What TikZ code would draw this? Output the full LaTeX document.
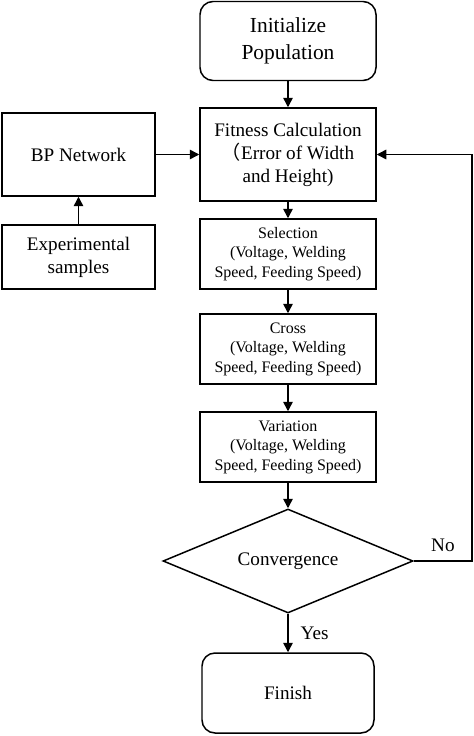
\documentclass[tikz,border=0pt]{standalone}
\usepackage{fontspec}
\setmainfont{Liberation Serif}
\newfontfamily\cjk{Noto Sans CJK SC}
\usepackage{tikz}
\usetikzlibrary{arrows.meta,positioning,calc,shapes.geometric}
\newcommand{\bigsz}{\fontsize{12.2}{15.4}\selectfont}
\newcommand{\midsz}{\fontsize{10.9}{13.1}\selectfont}
\newcommand{\smlsz}{\fontsize{9.1}{11.1}\selectfont}

\begin{document}
\begin{tikzpicture}[line width=0.85pt,
  box/.style={draw,rectangle,align=center,inner sep=0pt,minimum width=3.52cm,minimum height=1.40cm,font=\smlsz},
  term/.style={draw,rectangle,rounded corners=0.26cm,align=center,inner sep=0pt,minimum width=3.52cm,font=\bigsz},
  sidebox/.style={draw,rectangle,align=center,inner sep=0pt,minimum width=3.06cm,font=\midsz},
  decision/.style={draw,diamond,aspect=2.4,inner sep=0pt,minimum width=5cm,minimum height=2.08cm,font=\midsz},
  arr/.style={-{Triangle[length=1.9mm,width=1.9mm]}}]
\useasboundingbox (0,0) rectangle (9.48,-14.72);
\node[term,minimum height=1.58cm] (init) at (5.76,-0.82) {Initialize\\Population};
\node[box,font=\midsz,minimum height=1.86cm] (fit) at (5.76,-3.09) {Fitness Calculation\\{\cjk （}Error of Width\\and Height)};
\node[sidebox,minimum height=1.66cm] (bp) at (1.57,-3.09) {BP Network};
\node[sidebox,minimum height=1.28cm] (exp) at (1.57,-5.14) {Experimental\\samples};
\node[box] (sel) at (5.76,-5.08) {Selection\\(Voltage, Welding\\Speed, Feeding Speed)};
\node[box] (cross) at (5.76,-6.98) {Cross\\(Voltage, Welding\\Speed, Feeding Speed)};
\node[box] (var) at (5.76,-8.94) {Variation\\(Voltage, Welding\\Speed, Feeding Speed)};
\node[decision] (conv) at (5.76,-11.22) {Convergence};
\node[term,font=\midsz,minimum width=3.44cm,minimum height=1.6cm] (fin) at (5.76,-13.86) {Finish};
\coordinate (back) at (9.44,-11.22);
\draw[arr] (init) -- (fit);
\draw[arr] (bp) -- (fit);
\draw[arr] (exp) -- (bp);
\draw[arr] (fit) -- (sel);
\draw[arr] (sel) -- (cross);
\draw[arr] (cross) -- (var);
\draw[arr] (var) -- (conv);
\draw[arr] (conv) -- node[right=0.12cm,font=\midsz] {Yes} (fin);
\draw[arr] (conv.east) -- node[above=0.05cm,font=\midsz] {No} (back) |- (fit.east);
\end{tikzpicture}
\end{document}
